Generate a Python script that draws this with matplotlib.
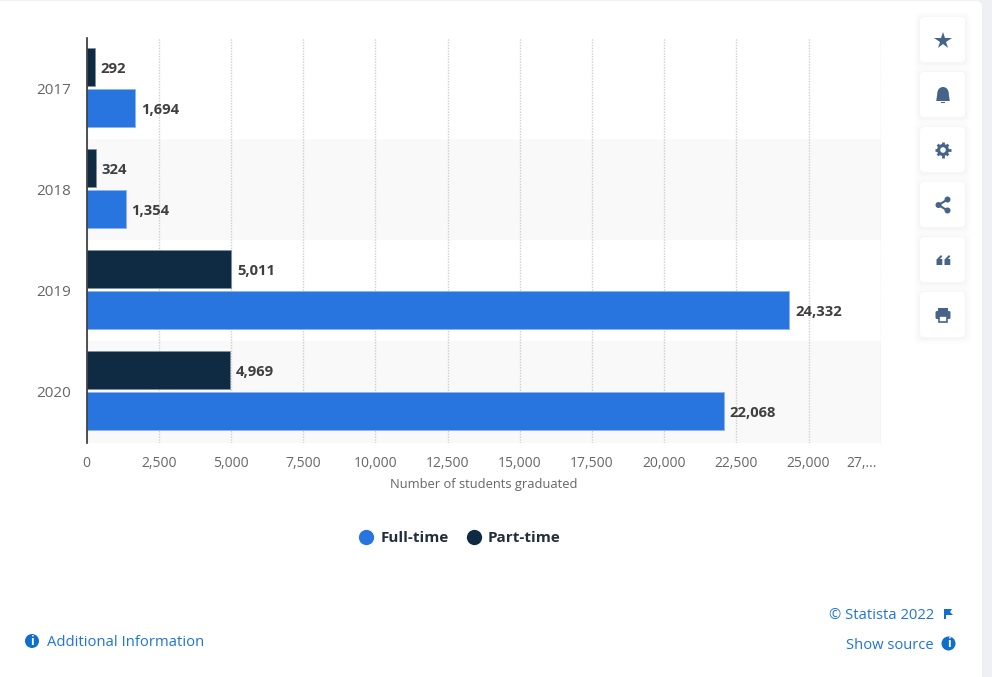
#!/usr/bin/env python3
"""
Statista bar chart: students graduated by year, full-time and part-time
"""

import matplotlib
matplotlib.use('Agg')
import matplotlib.pyplot as plt
import numpy as np
from matplotlib.lines import Line2D
from matplotlib.patches import Circle, FancyBboxPatch, Polygon, Rectangle
from matplotlib.transforms import ScaledTranslation

years = ['2017', '2018', '2019', '2020']
part_time = [292, 324, 5011, 4969]
full_time = [1694, 1354, 24332, 22068]
series_names = ['Full-time', 'Part-time']
x_ticks = [0, 2500, 5000, 7500, 10000, 12500, 15000, 17500, 20000, 22500, 25000, 27500]
x_tick_labels = ['0', '2,500', '5,000', '7,500', '10,000', '12,500', '15,000',
                 '17,500', '20,000', '22,500', '25,000', '27,...']

W, H = 992, 677
BLUE = '#2975DF'
NAVY = '#0F2A43'
LINK = '#1F74D6'
ICON = '#46648A'
plt.rcParams['font.family'] = ['Open Sans', 'DejaVu Sans']

fig = plt.figure(figsize=(W / 100, H / 100), dpi=100, facecolor='#EEF0F4')

# page layer in pixel coordinates
page = fig.add_axes([0, 0, 1, 1])
page.set_xlim(0, W)
page.set_ylim(H, 0)
page.axis('off')
page.add_patch(FancyBboxPatch((-20, 1), 1002, H + 20, boxstyle='round,pad=0,rounding_size=6',
                              facecolor='white', edgecolor='none'))


def button(y):
    # soft shadow, then the white card
    for grow, alpha in [(6, 0.008), (4, 0.012), (2, 0.018)]:
        page.add_patch(FancyBboxPatch((920 - grow, y - grow + 1), 45 + 2 * grow, 45 + 2 * grow,
                                      boxstyle='round,pad=0,rounding_size=6', facecolor='#39507A',
                                      edgecolor='none', alpha=alpha))
    page.add_patch(FancyBboxPatch((920, y), 45, 45, boxstyle='round,pad=0,rounding_size=4',
                                  facecolor='white', edgecolor='none'))


def info_icon(x, y, r=7):
    page.add_patch(Circle((x, y), r, facecolor='#0F6FCB', edgecolor='none'))
    page.text(x, y + 0.3, 'i', color='white', fontsize=r * 1.25, weight='bold',
              ha='center', va='center')


for top in [17, 72, 127, 182, 237, 292]:
    button(top)

# star
page.plot(943, 40.5, marker='*', ms=13, color=ICON, mew=0)

# bell
page.add_patch(Circle((943, 92.5), 5.5, facecolor=ICON, edgecolor='none'))
page.add_patch(Polygon([(937.5, 92.5), (948.5, 92.5), (949.8, 101), (936.2, 101)],
                       facecolor=ICON, edgecolor='none'))
page.add_patch(Rectangle((941, 102), 4, 1.2, facecolor=ICON, edgecolor='none'))

# gear
for a in np.arange(8) * np.pi / 4:
    page.plot([943 + 4 * np.cos(a), 943 + 7.6 * np.cos(a)], [150 + 4 * np.sin(a), 150 + 7.6 * np.sin(a)],
              color=ICON, lw=2, solid_capstyle='butt')
page.add_patch(Circle((943, 150), 6, facecolor=ICON, edgecolor='none'))
page.add_patch(Circle((943, 150), 2.8, facecolor='white', edgecolor='none'))

# share
page.plot([947.5, 938.5, 947.5], [199.5, 205, 210.5], color=ICON, lw=1.5)
for cx, cy in [(947.5, 199.5), (938.5, 205), (947.5, 210.5)]:
    page.add_patch(Circle((cx, cy), 3, facecolor=ICON, edgecolor='none'))

# quotes
for qx in [936.5, 944.5]:
    page.add_patch(Polygon([(qx, 265), (qx, 259.5), (qx + 4.5, 255), (qx + 5.8, 256.5),
                            (qx + 3.4, 259), (qx + 5.8, 259), (qx + 5.8, 265)],
                           facecolor=ICON, edgecolor='none'))

# printer
page.add_patch(FancyBboxPatch((935.5, 311), 15, 8, boxstyle='round,pad=0,rounding_size=1.5',
                              facecolor=ICON, edgecolor='none'))
page.add_patch(Rectangle((938, 307.5), 10, 4, facecolor=ICON, edgecolor='none'))
page.add_patch(Rectangle((938.8, 316), 8.4, 5.5, facecolor='white', edgecolor=ICON, lw=1.2))

# footer links
page.text(47, 643, 'Additional Information', color=LINK, fontsize=10.7, ha='left', va='center')
info_icon(32, 641)
page.text(934, 615.5, '© Statista 2022', color=LINK, fontsize=10.6, ha='right', va='center')
page.add_patch(Polygon([(944, 609), (952, 609), (950, 612), (953, 615), (946, 615),
                        (946, 619), (944, 619)], facecolor='#0F6FCB', edgecolor='none'))
page.text(934, 645.5, 'Show source', color=LINK, fontsize=10.6, ha='right', va='center')
info_icon(948.5, 643.5)

# chart, axes box set from the pixel edges of the plot area
left, right, top, bottom = 86.5, 880.8, 38, 442.5
ax = fig.add_axes([left / W, 1 - bottom / H, (right - left) / W, (bottom - top) / H])
ax.patch.set_alpha(0)
ax.set_xlim(0, 27500)
ax.set_ylim(len(years) - 0.5, -0.5)

for i in range(len(years)):
    if i % 2 == 1:
        ax.axhspan(i - 0.5, i + 0.5, color='#F9F9F9', lw=0, zorder=0)

ax.grid(axis='x', color='#CFCFCF', linestyle=(0, (1, 1)), linewidth=1, zorder=1)
ax.set_axisbelow(True)

positions = list(range(len(years)))
bar_h = 0.376
off_part = 0.215
off_full = 0.191
ax.barh([p - off_part for p in positions], part_time, height=bar_h, color=NAVY,
        edgecolor='#7F8FA0', linewidth=0.5, zorder=3)
ax.barh([p + off_full for p in positions], full_time, height=bar_h, color=BLUE,
        edgecolor='#8DB4EE', linewidth=0.6, zorder=3)

for p, pt, ft in zip(positions, part_time, full_time):
    ax.annotate(f'{pt:,}', (pt, p - off_part), xytext=(4.3, -1.6), textcoords='offset points',
                va='center', ha='left', fontsize=10.6, weight='bold', color='#3F3F3F', zorder=4)
    ax.annotate(f'{ft:,}', (ft, p + off_full), xytext=(4.3, -1.6), textcoords='offset points',
                va='center', ha='left', fontsize=10.6, weight='bold', color='#3F3F3F', zorder=4)

for side in ['top', 'right', 'bottom']:
    ax.spines[side].set_visible(False)
ax.spines['left'].set_color('#333333')
ax.spines['left'].set_linewidth(1.2)
ax.spines['left'].set_zorder(5)

ax.set_xticks(x_ticks)
ax.set_xticklabels(x_tick_labels, fontsize=10, color='#666666')
ax.set_yticks(positions)
ax.set_yticklabels(years, fontsize=11, color='#666666')
ax.tick_params(axis='x', length=0, pad=9.5)
ax.tick_params(axis='y', length=0, pad=11)
ax.set_xlabel('Number of students graduated', fontsize=9.3, color='#666666', labelpad=5)

# the truncated last label sits left of its gridline
last = ax.get_xticklabels()[-1]
last.set_transform(last.get_transform() + ScaledTranslation(-0.19, 0, fig.dpi_scale_trans))

handles = [Line2D([], [], linestyle='none', marker='o', ms=11, mew=0, color=BLUE),
           Line2D([], [], linestyle='none', marker='o', ms=11, mew=0, color=NAVY)]
fig.legend(handles, series_names, loc='center', bbox_to_anchor=(459 / W, 1 - 538 / H), ncol=2,
           frameon=False, handletextpad=0.35, columnspacing=1.0, handlelength=1.2,
           prop={'size': 11, 'weight': 'bold'}, labelcolor='#222E3C')

fig.savefig('out.png', dpi=100, facecolor=fig.get_facecolor())
